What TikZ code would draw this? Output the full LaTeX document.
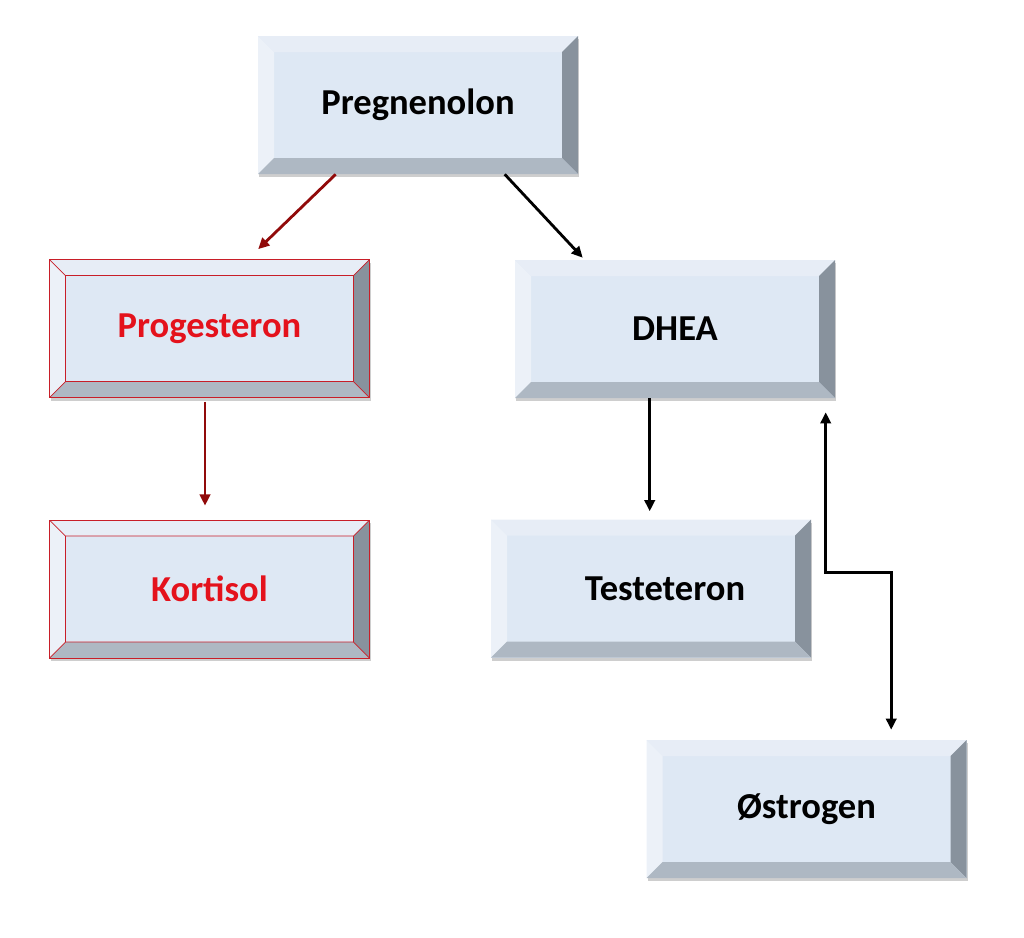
\documentclass[tikz,border=0pt]{standalone}
\usepackage{fontspec}
\setmainfont{Carlito}
\usetikzlibrary{calc,shadows,arrows.meta}

\definecolor{face}{RGB}{222,232,244}
\definecolor{bevtop}{RGB}{231,237,246}
\definecolor{bevleft}{RGB}{236,241,248}
\definecolor{bevright}{RGB}{136,146,157}
\definecolor{bevbottom}{RGB}{174,184,195}
\definecolor{ktext}{RGB}{228,18,28}
\definecolor{kline}{RGB}{200,30,40}
\definecolor{karrow}{RGB}{145,10,10}

\newcommand\bev{0.4}
\tikzset{
  frame/.store in=\bevframecol, frame=none,
  bevelbox/.style={rectangle, minimum width=8cm, minimum height=3.45cm, inner sep=0pt, fill=face,
    font=\fontsize{26}{31}\selectfont\bfseries,
    drop shadow={shadow xshift=0.03cm, shadow yshift=-0.08cm, opacity=0.35, fill=black!55},
    path picture={
      \path (path picture bounding box.south west) coordinate (bl)
            (path picture bounding box.north east) coordinate (tr)
            (path picture bounding box.north west) coordinate (tl)
            (path picture bounding box.south east) coordinate (br);
      \fill[bevtop] (tl) -- (tr) -- ($(tr)+(-\bev,-\bev)$) -- ($(tl)+(\bev,-\bev)$) -- cycle;
      \fill[bevleft] (tl) -- (bl) -- ($(bl)+(\bev,\bev)$) -- ($(tl)+(\bev,-\bev)$) -- cycle;
      \fill[bevright] (tr) -- (br) -- ($(br)+(-\bev,\bev)$) -- ($(tr)+(-\bev,-\bev)$) -- cycle;
      \fill[bevbottom] (bl) -- (br) -- ($(br)+(-\bev,\bev)$) -- ($(bl)+(\bev,\bev)$) -- cycle;
      \draw[draw=\bevframecol, line width=0.5pt] ($(bl)+(\bev,\bev)$) rectangle ($(tr)+(-\bev,-\bev)$)
        (bl) -- ++(\bev,\bev) (br) -- ++(-\bev,\bev) (tl) -- ++(\bev,-\bev) (tr) -- ++(-\bev,-\bev);
    }},
  redbox/.style={bevelbox, frame=kline, draw=kline, line width=0.5pt, text=ktext},
}

\begin{document}
\begin{tikzpicture}[>={Triangle[length=2.8mm,width=2.6mm]}]
    \useasboundingbox (0,0) rectangle (25.6,-23.425);
    % boxes
    \node[bevelbox] (preg) at (10.45,-2.625) {Pregnenolon};
    \node[redbox] (prog) at (5.2375,-8.2125) {Progesteron};
    \node[redbox] (kort) at (5.2375,-14.725) {Kortisol};
    \node[bevelbox] (dhea) at (16.875,-8.225) {DHEA};
    \node[bevelbox] (test) at (16.275,-14.7125) {\hspace*{0.7cm}Testeteron};
    \node[bevelbox] (ostr) at (20.1625,-20.225) {Østrogen};
    % arrows
    \draw[line width=2pt,karrow,->] ([xshift=1.95cm]preg.south west) -- ([xshift=5.225cm,yshift=0.25cm]prog.north west);
    \draw[line width=2pt,->] ([xshift=6.175cm]preg.south west) -- ([xshift=1.7cm,yshift=0.05cm]dhea.north west);
    \draw[line width=2pt,karrow,->] ([yshift=-0.1cm]prog.south -| 5.125,0) -- ([yshift=0.35cm]kort.north -| 5.125,0);
    \draw[line width=2pt,->] ([xshift=3.375cm]dhea.south west) -- ([xshift=3.375cm,yshift=0.2cm]dhea.south west |- test.north);
    \draw[line width=2pt,<->] ([xshift=7.775cm,yshift=-0.35cm]dhea.south west) -- ++(0,-4) -| ([xshift=6.125cm,yshift=0.25cm]ostr.north west);
\end{tikzpicture}
\end{document}
